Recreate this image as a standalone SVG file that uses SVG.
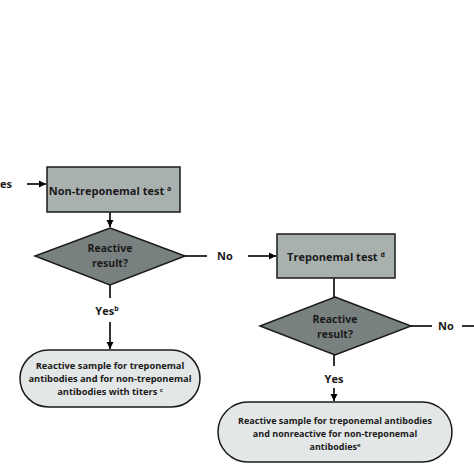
<svg xmlns="http://www.w3.org/2000/svg" width="474" height="474" viewBox="0 0 474 474">
<style>
text{font-family:"Open Sans","Noto Sans","Liberation Sans",sans-serif;font-weight:bold;fill:#1a1a1a;}
.box{fill:#a9b1af;stroke:#1a1a1a;stroke-width:1.5;}
.dia{fill:#78817f;stroke:#1a1a1a;stroke-width:1.5;}
.pill{fill:#e4e7e7;stroke:#1a1a1a;stroke-width:1.5;}
.c{stroke:#000;stroke-width:1.6;fill:none;}
.m{text-anchor:middle;}
</style>
<defs>
<marker id="ah" markerWidth="8" markerHeight="8" refX="7" refY="4" orient="auto" markerUnits="userSpaceOnUse">
<path d="M0,0.5 L7,4 L0,7.5 Z" fill="#000"/>
</marker>
</defs>
<rect width="474" height="474" fill="#fff"/>
<g id="connectors">
<line class="c" x1="27" y1="184" x2="46" y2="184" marker-end="url(#ah)"/>
<line class="c" x1="110" y1="212" x2="110" y2="227" marker-end="url(#ah)"/>
<line class="c" x1="184" y1="256" x2="207" y2="256"/>
<line class="c" x1="248" y1="256" x2="276" y2="256" marker-end="url(#ah)"/>
<line class="c" x1="110" y1="285" x2="110" y2="298"/>
<line class="c" x1="110" y1="322" x2="110" y2="349" marker-end="url(#ah)"/>
<line class="c" x1="334" y1="278" x2="334" y2="297"/>
<line class="c" x1="411" y1="326" x2="432" y2="326"/>
<line class="c" x1="462" y1="326" x2="474" y2="326"/>
<line class="c" x1="334" y1="355" x2="334" y2="366"/>
<line class="c" x1="334" y1="388" x2="334" y2="401" marker-end="url(#ah)"/>
<text x="225" y="260" class="m" font-size="11">No</text>
<text x="446" y="330" class="m" font-size="11">No</text>
<text x="107" y="315" class="m" font-size="11">Yes<tspan font-size="7" dy="-4">b</tspan></text>
<text x="334" y="383" class="m" font-size="11">Yes</text>
<text x="12" y="188" text-anchor="end" font-size="11">es</text>
</g>
<g id="n1">
<rect class="box" x="47" y="167" width="133" height="45"/>
<text x="110" y="195" class="m" font-size="11">Non-treponemal test <tspan font-size="7" dy="-4">a</tspan></text>
</g>
<g id="d1">
<polygon class="dia" points="110,228 185,256 110,285 35,256"/>
<text x="110" y="252" class="m" font-size="10.5">Reactive</text>
<text x="110" y="267" class="m" font-size="10.5">result?</text>
</g>
<g id="n2">
<rect class="box" x="277" y="234" width="118" height="44"/>
<text x="336" y="261" class="m" font-size="11">Treponemal test <tspan font-size="7" dy="-4">d</tspan></text>
</g>
<g id="d2">
<polygon class="dia" points="335,297 411,326 335,355 260,326"/>
<text x="335" y="323" class="m" font-size="10.5">Reactive</text>
<text x="335" y="338" class="m" font-size="10.5">result?</text>
</g>
<g id="p1">
<rect class="pill" x="20" y="350" width="180" height="57" rx="28.5"/>
<text x="110" y="369" class="m" font-size="9.3">Reactive sample for treponemal</text>
<text x="110" y="382" class="m" font-size="9.3">antibodies and for non-treponemal</text>
<text x="110" y="395" class="m" font-size="9.3">antibodies with titers <tspan font-size="6" dy="-3">c</tspan></text>
</g>
<g id="p2">
<rect class="pill" x="218" y="402" width="234" height="60" rx="30"/>
<text x="335" y="424" class="m" font-size="9">Reactive sample for treponemal antibodies</text>
<text x="335" y="437" class="m" font-size="9">and nonreactive for non-treponemal</text>
<text x="335" y="450" class="m" font-size="9">antibodies<tspan font-size="6" dy="-3">e</tspan></text>
</g>
</svg>
